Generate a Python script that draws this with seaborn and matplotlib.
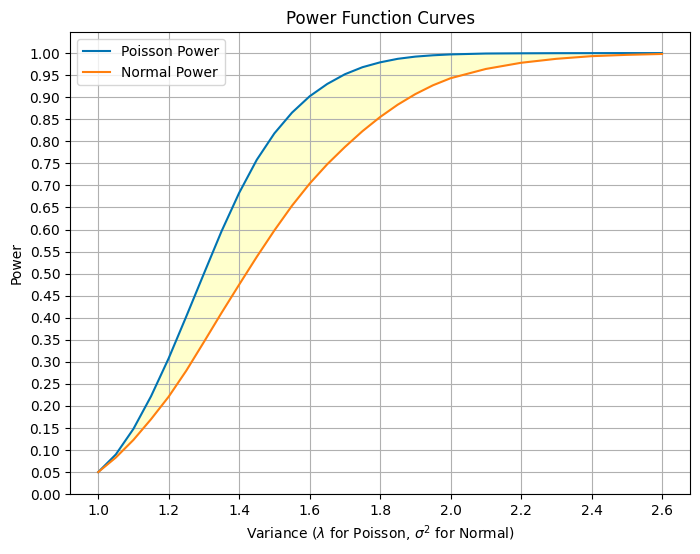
import numpy as np
import pandas as pd
import matplotlib
matplotlib.use("Agg")
import matplotlib.pyplot as plt
import seaborn as sns

variance = [1.00, 1.05, 1.10, 1.15, 1.20, 1.25, 1.30, 1.35, 1.40, 1.45, 1.50,
            1.55, 1.60, 1.65, 1.70, 1.75, 1.80, 1.85, 1.90, 1.95, 2.00,
            2.10, 2.20, 2.30, 2.40, 2.50, 2.60]
poisson_power = [0.050, 0.090, 0.148, 0.222, 0.308, 0.403, 0.500, 0.596, 0.683, 0.758, 0.818,
                 0.865, 0.902, 0.930, 0.952, 0.968, 0.979, 0.987, 0.992, 0.995, 0.997,
                 0.999, 0.9995, 0.9998, 0.9999, 1.000, 1.000]
normal_power = [0.050, 0.083, 0.123, 0.170, 0.221, 0.280, 0.345, 0.411, 0.475, 0.538, 0.598,
                0.654, 0.704, 0.748, 0.787, 0.823, 0.855, 0.883, 0.907, 0.927, 0.943,
                0.964, 0.978, 0.987, 0.993, 0.996, 0.998]

df = pd.DataFrame({"variance": variance, "Poisson Power": poisson_power,
                   "Normal Power": normal_power})

fig, ax = plt.subplots(figsize=(7, 5.54), dpi=100)
sns.lineplot(data=df, x="variance", y="Poisson Power", ax=ax, color="#0173B2",
             label="Poisson Power", linewidth=1.5)
sns.lineplot(data=df, x="variance", y="Normal Power", ax=ax, color="#FF7F0E",
             label="Normal Power", linewidth=1.5)
ax.fill_between(df["variance"], df["Poisson Power"], df["Normal Power"],
                color="yellow", alpha=0.2, linewidth=0)

ax.set_xlim(0.92, 2.68)
ax.set_ylim(0, 1.0475)
ax.set_yticks(np.arange(0, 1.0001, 0.05))
ax.set_title("Power Function Curves")
ax.set_xlabel(r"Variance ($\lambda$ for Poisson, $\sigma^2$ for Normal)")
ax.set_ylabel("Power")
ax.grid(True)
ax.legend(loc="upper left")
fig.subplots_adjust(left=0.1, right=0.986, bottom=0.108, top=0.942)
fig.savefig("out.png", dpi=100)
